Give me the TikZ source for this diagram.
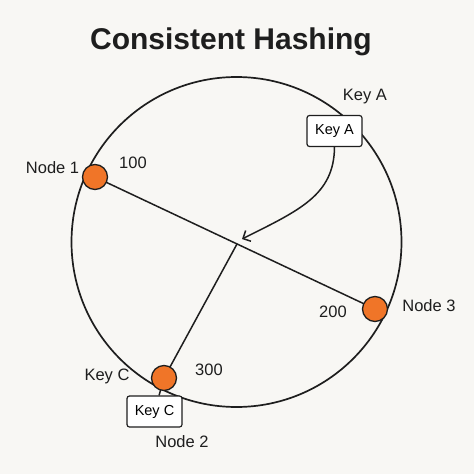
\documentclass[tikz,border=0pt]{standalone}
\usepackage{fontspec}
\setmainfont{Liberation Sans}
\usetikzlibrary{positioning,arrows.meta}
\definecolor{paper}{HTML}{F8F7F4}
\definecolor{dotorange}{HTML}{F07528}
\definecolor{ink}{HTML}{1E1E1E}

\begin{document}
\begin{tikzpicture}[x=1pt,y=-1pt,
    ring/.style={draw=ink,line width=1.7pt},
    hashdot/.style={circle,fill=dotorange,draw=ink,line width=1.3pt,minimum size=25pt,inner sep=0pt},
    keybox/.style={draw=ink,fill=white,rounded corners=2.5pt,line width=1.2pt,minimum width=55pt,minimum height=31pt,font=\fontsize{14.5}{16}\selectfont},
    lbl/.style={font=\fontsize{16.5}{18}\selectfont,text=ink},
    link/.style={draw=ink,line width=1.5pt}]
    \useasboundingbox[fill=paper] (0,0) rectangle (474,474);
    % title
    \node[font=\bfseries\fontsize{30}{32}\selectfont,text=ink] (title) at (231,42) {Consistent Hashing};
    % ring
    \draw[ring] (236.5,242) circle[radius=165];
    % hub where the lines meet
    \coordinate (hub) at (237,244);
    \coordinate (hit) at (242,239);
    % keys
    \node[keybox] (keyA) at (334.5,131) {Key A};
    \node[keybox] (keyC) at (154.5,411.5) {Key C};
    % links
    \draw[link] (95,177) -- (375,309);
    \draw[link] (hub) -- (164,378);
    \draw[link] (164,378) -- (keyC);
    \draw[link,->,>={Straight Barb[length=6pt,width=12pt]}] (keyA.south) .. controls (334,195) and (300,210) .. (hit);
    % ring nodes
    \node[hashdot] (dot1) at (95,177) {};
    \node[hashdot] (dot3) at (375,309) {};
    \node[hashdot] (dot2) at (164,378) {};
    % labels
    \node[lbl,left=3pt of dot1.north west,anchor=east] (n1) {Node 1};
    \node[lbl] (v100) at (133,163) {100};
    \node[lbl] (n3) at (429,306) {Node 3};
    \node[lbl] (v200) at (333,312) {200};
    \node[lbl] (v300) at (209,370) {300};
    \node[lbl] (kC) at (107,376) {Key C};
    \node[lbl] (n2) at (182,442) {Node 2};
    \node[lbl] (kA) at (365,97) {Key A};
\end{tikzpicture}
\end{document}
